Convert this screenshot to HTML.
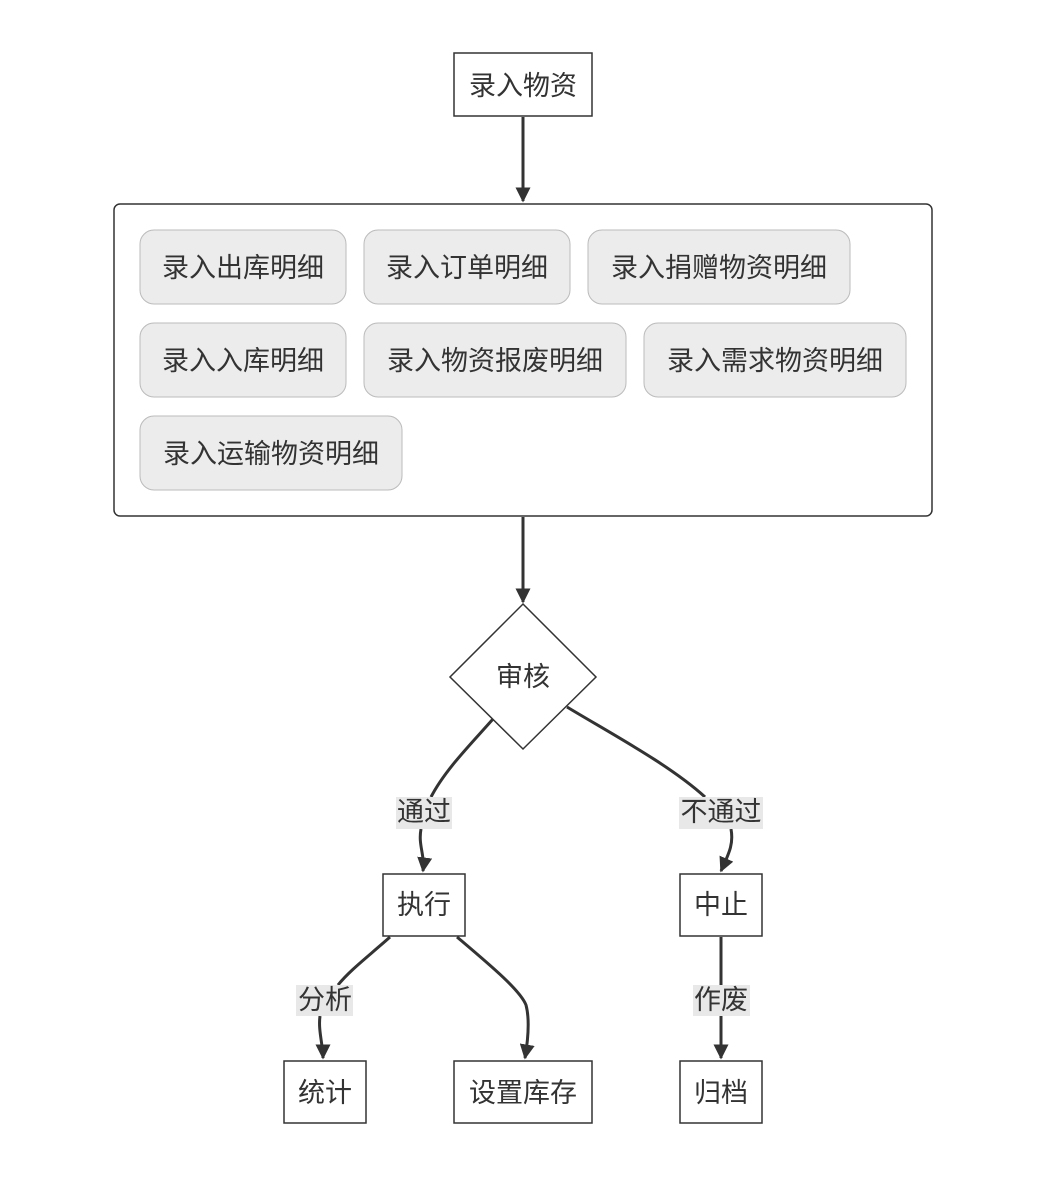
<!DOCTYPE html>
<html><head><meta charset="utf-8"><style>
body{margin:0;background:#fff}
text{font-family:"Liberation Sans","Noto Sans CJK SC",sans-serif;font-size:27px;fill:#333;text-anchor:middle;dominant-baseline:central}
</style></head><body>
<svg width="1046" height="1181" xmlns="http://www.w3.org/2000/svg">
<defs><marker id="a" viewBox="0 0 10 10" refX="9" refY="5" markerWidth="5" markerHeight="5" orient="auto"><path d="M0,0L10,5L0,10z" fill="#333"/></marker></defs>
<g fill="none" stroke="#333" stroke-width="3">
<path d="M523,117V201" marker-end="url(#a)"/>
<path d="M523,517V602" marker-end="url(#a)"/>
<path d="M493,719C470,745 445,770 431,797M421,829C418,845 425,855 423,871" marker-end="url(#a)"/>
<path d="M567,707C610,733 670,765 705,797M731,829C734,845 728,855 721,871" marker-end="url(#a)"/>
<path d="M390,937C370,955 350,970 338,985M320,1016C318,1030 323,1045 323,1058" marker-end="url(#a)"/>
<path d="M457,937C490,965 520,990 526,1005C530,1020 528,1040 525,1058" marker-end="url(#a)"/>
<path d="M721,937V985M721,1016V1058" marker-end="url(#a)"/>
</g>
<g fill="#fff" stroke="#333" stroke-width="1.5">
<rect x="454" y="53" width="138" height="63"/>
<rect x="114" y="204" width="818" height="312" rx="6"/>
<polygon points="523,604 596,677 523,749 450,677"/>
<rect x="383" y="874" width="82" height="62"/>
<rect x="680" y="874" width="82" height="62"/>
<rect x="284" y="1061" width="82" height="62"/>
<rect x="454" y="1061" width="138" height="62"/>
<rect x="680" y="1061" width="82" height="62"/>
</g>
<g fill="#ececec" stroke="#bbb" stroke-width="1">
<rect x="140" y="230" width="206" height="74" rx="14"/>
<rect x="364" y="230" width="206" height="74" rx="14"/>
<rect x="588" y="230" width="262" height="74" rx="14"/>
<rect x="140" y="323" width="206" height="74" rx="14"/>
<rect x="364" y="323" width="262" height="74" rx="14"/>
<rect x="644" y="323" width="262" height="74" rx="14"/>
<rect x="140" y="416" width="262" height="74" rx="14"/>
</g>
<g fill="#e8e8e8">
<rect x="396" y="797" width="56" height="32"/>
<rect x="679" y="797" width="84" height="32"/>
<rect x="296" y="985" width="57" height="31"/>
<rect x="693" y="985" width="57" height="31"/>
</g>
<text x="523" y="86">录入物资</text>
<text x="243" y="268">录入出库明细</text>
<text x="467" y="268">录入订单明细</text>
<text x="719" y="268">录入捐赠物资明细</text>
<text x="243" y="361">录入入库明细</text>
<text x="495" y="361">录入物资报废明细</text>
<text x="775" y="361">录入需求物资明细</text>
<text x="271" y="454">录入运输物资明细</text>
<text x="523" y="677">审核</text>
<text x="424" y="812">通过</text>
<text x="721" y="812">不通过</text>
<text x="424" y="905">执行</text>
<text x="721" y="905">中止</text>
<text x="325" y="1000">分析</text>
<text x="721" y="1000">作废</text>
<text x="325" y="1093">统计</text>
<text x="523" y="1093">设置库存</text>
<text x="721" y="1093">归档</text>
</svg>
</body></html>
